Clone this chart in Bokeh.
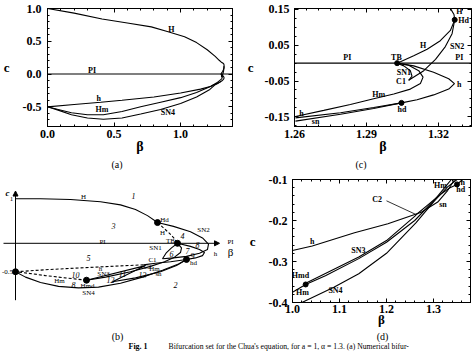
from bokeh.plotting import figure
from bokeh.layouts import column, row
from bokeh.models import (Range1d, LinearAxis, FixedTicker, PrintfTickFormatter,
                          CustomJSTickFormatter, Title, Arrow, NormalHead, Span)
from bokeh.core.properties import value
from bokeh.embed import file_html
from bokeh.resources import INLINE

SERIF = "Liberation Serif"

# ================= Panel (c): zoom near the TB point =================
c_Hup_beta = [1.3250, 1.3265, 1.3268]
c_Hup_c = [0.153, 0.136, 0.121]
c_Hlow_beta = [1.3268, 1.3250, 1.3208, 1.3153, 1.3097, 1.3028]
c_Hlow_c = [0.121, 0.0914, 0.0627, 0.039, 0.021, 0.0]
c_SN2_beta = [1.3268, 1.3257, 1.3229, 1.3188, 1.3139, 1.3076]
c_SN2_c = [0.121, 0.0824, 0.0464, 0.0104, -0.0211, -0.048]
c_SN1_beta = [1.3028, 1.3056, 1.3083, 1.3090, 1.3076]
c_SN1_c = [0.0, -0.0076, -0.0211, -0.0365, -0.048]
c_h_beta = [1.3028, 1.3097, 1.3180, 1.3243, 1.3267, 1.3243, 1.3180, 1.3111, 1.3046, 1.2930, 1.2792, 1.2604]
c_h_c = [0.0, -0.0076, -0.0257, -0.0437, -0.057, -0.0725, -0.0887, -0.1022, -0.111, -0.124, -0.1385, -0.153]
c_Hm_beta = [1.3028, 1.3076, 1.3118, 1.3136, 1.3125, 1.3083, 1.3014, 1.2930, 1.2833, 1.2722, 1.2604]
c_Hm_c = [0.0, -0.006, -0.021, -0.039, -0.057, -0.0725, -0.086, -0.0995, -0.1157, -0.132, -0.149]
c_sn_beta = [1.3046, 1.2930, 1.2792, 1.2604]
c_sn_c = [-0.111, -0.1266, -0.1428, -0.162]
c_pt_beta = [1.3028, 1.3268, 1.3046]
c_pt_c = [0.0, 0.121, -0.111]
c_lab_text = ["H", "Hd", "H", "SN2", "PI", "TB", "PI", "SN1", "C1", "h", "Hm", "hd", "h", "sn"]
c_lab_beta = [1.3287, 1.3305, 1.3136, 1.3278, 1.2820, 1.3025, 1.3287, 1.3056, 1.3044, 1.3287, 1.2951, 1.3048, 1.2629, 1.2688]
c_lab_c = [0.143, 0.118, 0.048, 0.046, 0.015, 0.015, 0.015, -0.026, -0.051, -0.060, -0.087, -0.129, -0.141, -0.163]

# ================= Panel (a): numerical bifurcation set =================
a_H_beta = [0.0, 0.2, 0.41, 0.6, 0.78, 0.9, 1.03, 1.12, 1.2, 1.26, 1.29, 1.31, 1.322]
a_H_c = [1.0, 0.93, 0.84, 0.78, 0.72, 0.65, 0.57, 0.48, 0.37, 0.27, 0.21, 0.175, 0.16]
a_h_beta = [0.0, 0.2, 0.4, 0.56, 0.8, 1.0, 1.15, 1.23]
a_h_c = [-0.5, -0.465, -0.43, -0.40, -0.35, -0.29, -0.23, -0.185]
a_Hm_beta = [0.0, 0.08, 0.18, 0.3, 0.42, 0.56, 0.7, 0.85, 1.0, 1.12, 1.22]
a_Hm_c = [-0.5, -0.54, -0.59, -0.62, -0.62, -0.57, -0.5, -0.43, -0.36, -0.28, -0.195]
a_SN4_beta = [0.0, 0.08, 0.18, 0.3, 0.42, 0.56, 0.7, 0.85, 1.0, 1.12, 1.22]
a_SN4_c = [-0.5, -0.55, -0.62, -0.67, -0.69, -0.67, -0.61, -0.54, -0.45, -0.35, -0.235]
a_lab_text = ["H", "PI", "h", "Hm", "SN4"]
a_lab_beta = [0.93, 0.335, 0.385, 0.41, 0.905]
a_lab_c = [0.685, 0.05, -0.37, -0.545, -0.585]

# ================= Panel (d): lower branch detail =================
d_h_beta = [1.0, 1.042, 1.132, 1.203, 1.274, 1.309, 1.33, 1.345]
d_h_c = [-0.273, -0.262, -0.23, -0.208, -0.18, -0.155, -0.127, -0.1]
d_Hm_beta = [1.0, 1.028, 1.07, 1.141, 1.2, 1.26, 1.302, 1.325, 1.338]
d_Hm_c = [-0.375, -0.356, -0.335, -0.293, -0.253, -0.2, -0.15, -0.118, -0.1]
d_SN3_beta = [1.028, 1.141, 1.2, 1.263]
d_SN3_c = [-0.353, -0.289, -0.249, -0.187]
d_SN4_beta = [1.02, 1.088, 1.141, 1.2, 1.263, 1.302, 1.33, 1.35]
d_SN4_c = [-0.4, -0.363, -0.33, -0.28, -0.205, -0.152, -0.118, -0.1]
d_sn_beta = [1.263, 1.29, 1.315, 1.335, 1.35, 1.362]
d_sn_c = [-0.186, -0.16, -0.136, -0.12, -0.112, -0.1]
d_C2_beta = [1.2, 1.262]
d_C2_c = [-0.152, -0.185]
d_pt_beta = [1.028, 1.35]
d_pt_c = [-0.356, -0.112]
d_lab_text = ["h", "SN3", "Hmd", "Hm", "SN4", "C2", "Hm", "h", "hd", "sn"]
d_lab_beta = [1.042, 1.14, 1.017, 1.021, 1.0915, 1.18, 1.315, 1.362, 1.358, 1.32]
d_lab_c = [-0.25, -0.273, -0.334, -0.376, -0.371, -0.148, -0.114, -0.108, -0.124, -0.162]

# ================= Panel (b): schematic (schematic units) =================
b_H_x = [15, 40, 70, 100, 120, 135, 147, 157]
b_H_y = [195, 195, 196, 199, 203, 209, 217, 226]
b_Hd_x = [157, 163, 169, 174, 177]
b_Hd_y = [226, 233, 240, 247, 253]
b_SN2_x = [157, 173, 190, 202, 208, 207, 199, 186, 173, 162]
b_SN2_y = [226, 231, 238, 246, 254, 261, 266, 270, 272, 273]
b_h_x = [177, 190, 199, 204, 202, 195, 186, 170, 155, 143]
b_h_y = [253, 257, 261, 265, 269, 272, 274, 277, 279, 281]
b_hdash_x = [143, 110, 80, 50, 15]
b_hdash_y = [281, 283, 285, 287, 290]
b_Hm_x = [177, 181, 180, 174, 164, 150, 130, 105, 86]
b_Hm_y = [253, 259, 265, 271, 277, 283, 290, 297, 301]
b_Hmdash_x = [86, 65, 45, 28, 15]
b_Hmdash_y = [301, 298, 295, 292, 290]
b_SN1_x = [177, 171, 166, 162]
b_SN1_y = [253, 259, 265, 273]
b_SN3_x = [86, 145, 112]
b_SN3_y = [301, 282, 303]
b_sn_x = [112, 135, 160, 176, 186]
b_sn_y = [303, 298, 290, 282, 274]
b_SN4_x = [15, 25, 40, 58, 78, 98, 120, 142, 162, 178, 186]
b_SN4_y = [290, 297, 304, 309, 311, 310, 305, 297, 288, 280, 274]
b_pt_x = [157, 177, 186, 86, 15]
b_pt_y = [226, 253, 274, 301, 290]
b_lab_text = ["H", "Hd", "H", "SN2", "TB", "PI", "PI", "SN1", "C1", "h", "hd",
              "Hm", "C2", "sn", "h", "Hm", "Hmd", "SN3", "SN4", "1", "-0.5"]
b_lab_x = [83, 164, 162, 203, 170, 102, 230, 155, 152, 215, 193,
           154, 147, 158, 100, 59, 87, 103, 88, 11, 7]
b_lab_y = [193, 223, 240, 236, 250, 251, 251, 259, 275, 267, 279,
           286, 284, 293, 287, 302, 308, 293, 318, 195, 290]
b_reg_text = ["1", "3", "4", "5", "6", "7", "8", "9", "10", "8", "11", "12", "13", "2"]
b_reg_x = [133, 113, 182, 88, 171, 187, 197, 192, 75, 73, 122, 110, 142, 175]
b_reg_y = [192, 230, 244, 272, 267, 263, 255, 269, 294, 307, 293, 301, 294, 307]

CAPTION = "Bifurcation set for the Chua's equation, for a = 1, \u03b1 = 1.3. (a) Numerical bifur-"

BLANK = CustomJSTickFormatter(code="return '';")


def frame_fig(w, h, xr, yr, bl, br, bt, bb, xt, xm, yt, ym, fmt,
              x_std, x_lab_std, y_std, y_lab_std, beta_size):
    p = figure(width=w, height=h, x_range=Range1d(*xr), y_range=Range1d(*yr),
               output_backend="svg", toolbar_location=None,
               min_border_left=bl, min_border_right=br, min_border_top=bt,
               min_border_bottom=bb, x_axis_location=None, y_axis_location=None)
    p.grid.visible = False
    p.outline_line_color = "black"
    p.outline_line_width = 1
    p.background_fill_color = "white"
    p.border_fill_color = "white"
    for loc, ticks, minors, show in [("below", xt, xm, True), ("left", yt, ym, True),
                                     ("above", xt, xm, False), ("right", yt, ym, False)]:
        if show:
            fm = PrintfTickFormatter(format=fmt[0] if loc == "below" else fmt[1])
        else:
            fm = BLANK
        ax = LinearAxis(ticker=FixedTicker(ticks=ticks, minor_ticks=minors), formatter=fm)
        ax.major_tick_in = 4
        ax.major_tick_out = 0
        ax.minor_tick_in = 2
        ax.minor_tick_out = 0
        ax.axis_line_color = "black"
        ax.major_label_text_font = SERIF
        ax.major_label_text_font_style = "bold"
        ax.major_label_text_color = "black"
        ax.major_label_text_font_size = "12px"
        ax.axis_label_text_font = SERIF
        ax.axis_label_text_font_style = "bold"
        ax.axis_label_text_color = "black"
        if not show:
            ax.major_label_standoff = 0
        elif loc == "below":
            ax.major_label_standoff = x_std
            ax.axis_label = "\u03b2"
            ax.axis_label_standoff = x_lab_std
            ax.axis_label_text_font_size = beta_size
        else:
            ax.major_label_standoff = y_std
            ax.axis_label = "c"
            ax.axis_label_standoff = y_lab_std
            ax.axis_label_text_font_size = "13px"
            if "axis_label_orientation" in ax.properties():
                ax.axis_label_orientation = "horizontal"
        p.add_layout(ax, loc)
    return p


def labels(p, texts, xs, ys, size="8px", style="bold"):
    p.text(x=xs, y=ys, text=texts, text_font=value(SERIF), text_font_size=size,
           text_font_style=style, text_align="center", text_baseline="middle",
           text_color="black")


def panel_title(p, txt, offset):
    p.add_layout(Title(text=txt, align="left", offset=offset, standoff=0,
                       text_font=SERIF, text_font_size="10px", text_font_style="normal",
                       text_color="black"), "below")


def ticks_between(a, b, step):
    n = int(round((b - a) / step))
    return [round(a + i * step, 4) for i in range(n + 1)]


LW = 1.1

# ---------- (a) ----------
pa = frame_fig(240, 170, (0.0, 1.39), (-0.8, 1.0), 45, 8, 8, 44,
               [0.0, 0.5, 1.0], ticks_between(0.0, 1.4, 0.1),
               [-0.5, 0.0, 0.5, 1.0], ticks_between(-0.8, 1.0, 0.1), ("%.1f", "%.1f"),
               3, -2, 6, 10, "14px")
panel_title(pa, "(a)", 64)
pa.add_layout(Span(location=0, dimension="width", line_color="black", line_width=LW))
pa.line(a_H_beta + c_Hup_beta, a_H_c + c_Hup_c, line_color="black", line_width=LW)
pa.line(c_Hlow_beta, c_Hlow_c, line_color="black", line_width=LW)
pa.line(c_SN2_beta, c_SN2_c, line_color="black", line_width=LW)
pa.line(c_SN1_beta, c_SN1_c, line_color="black", line_width=LW)
pa.line(a_h_beta + c_h_beta[::-1], a_h_c + c_h_c[::-1], line_color="black", line_width=LW)
pa.line(a_Hm_beta + c_Hm_beta[::-1], a_Hm_c + c_Hm_c[::-1], line_color="black", line_width=LW)
pa.line(a_SN4_beta + c_sn_beta[::-1], a_SN4_c + c_sn_c[::-1], line_color="black", line_width=LW)
labels(pa, a_lab_text, a_lab_beta, a_lab_c)

# ---------- (c) ----------
pc = frame_fig(234, 170, (1.26, 1.3338), (-0.177, 0.1527), 54, 3, 8, 44,
               [1.26, 1.29, 1.32], ticks_between(1.26, 1.335, 0.005),
               [-0.15, -0.05, 0.05, 0.15], ticks_between(-0.175, 0.15, 0.025), ("%.2f", "%.2f"),
               3, -2, 5, 8, "14px")
panel_title(pc, "(c)", 61)
pc.add_layout(Span(location=0, dimension="width", line_color="black", line_width=LW))
for bx, cy in [(c_Hup_beta, c_Hup_c), (c_Hlow_beta, c_Hlow_c), (c_SN2_beta, c_SN2_c),
               (c_SN1_beta, c_SN1_c), (c_h_beta, c_h_c), (c_Hm_beta, c_Hm_c), (c_sn_beta, c_sn_c)]:
    pc.line(bx, cy, line_color="black", line_width=LW)
pc.scatter(c_pt_beta, c_pt_c, size=5, color="black")
labels(pc, c_lab_text, c_lab_beta, c_lab_c)

# ---------- (b) ----------
pb = figure(width=240, height=160, x_range=Range1d(0, 240), y_range=Range1d(330, 170),
            output_backend="svg", toolbar_location=None, min_border=0,
            x_axis_location=None, y_axis_location=None)
pb.grid.visible = False
pb.outline_line_color = None
pb.add_layout(Arrow(end=NormalHead(size=5, fill_color="black", line_color="black"),
                    x_start=15, y_start=327, x_end=15, y_end=185, line_width=1))
pb.add_layout(Arrow(end=NormalHead(size=5, fill_color="black", line_color="black"),
                    x_start=3, y_start=253, x_end=219, y_end=253, line_width=1))
for bx, by in [(b_H_x, b_H_y), (b_SN2_x, b_SN2_y), (b_h_x, b_h_y), (b_Hm_x, b_Hm_y),
               (b_SN1_x, b_SN1_y), (b_SN3_x, b_SN3_y), (b_sn_x, b_sn_y), (b_SN4_x, b_SN4_y)]:
    pb.line(bx, by, line_color="black", line_width=LW)
for bx, by in [(b_Hd_x, b_Hd_y), (b_hdash_x, b_hdash_y), (b_Hmdash_x, b_Hmdash_y)]:
    pb.line(bx, by, line_color="black", line_width=LW, line_dash="3 2")
pb.scatter(b_pt_x, b_pt_y, size=6, color="black")
labels(pb, b_lab_text, b_lab_x, b_lab_y, size="7px", style="normal")
labels(pb, b_reg_text, b_reg_x, b_reg_y, size="8px", style="italic")
labels(pb, ["c"], [7], [187], size="9px", style="bold italic")
labels(pb, ["\u03b2"], [230], [264], size="11px", style="normal")

# ---------- (d) ----------
pd_ = frame_fig(234, 160, (1.0, 1.3787), (-0.4, -0.1), 52, 4, 9, 28,
                [1.0, 1.1, 1.2, 1.3], ticks_between(1.0, 1.38, 0.02),
                [-0.4, -0.3, -0.2, -0.1], ticks_between(-0.4, -0.1, 0.02), ("%.1f", "%.1f"),
                2, -4, 5, 10, "13px")
for bx, cy in [(d_h_beta, d_h_c), (d_Hm_beta, d_Hm_c), (d_SN3_beta, d_SN3_c),
               (d_SN4_beta, d_SN4_c), (d_sn_beta, d_sn_c)]:
    pd_.line(bx, cy, line_color="black", line_width=LW)
pd_.line(d_C2_beta, d_C2_c, line_color="black", line_width=0.8)
pd_.scatter(d_pt_beta, d_pt_c, size=5, color="black")
labels(pd_, d_lab_text, d_lab_beta, d_lab_c)

# ---------- caption strip ----------
pcap = figure(width=474, height=22, x_range=Range1d(0, 474), y_range=Range1d(352, 330),
              output_backend="svg", toolbar_location=None, min_border=0,
              x_axis_location=None, y_axis_location=None)
pcap.grid.visible = False
pcap.outline_line_color = None
labels(pcap, ["(b)", "(d)"], [117, 382], [336, 336], size="10px", style="normal")
pcap.text(x=[128], y=[346], text=["Fig. 1"], text_font=value(SERIF), text_font_size="8px",
          text_font_style="bold", text_align="left", text_baseline="middle", text_color="black")
pcap.text(x=[168], y=[346], text=[CAPTION], text_font=value(SERIF), text_font_size="7.7px",
          text_align="left", text_baseline="middle", text_color="black")

layout = column(row(pa, pc), row(pb, pd_), pcap)
open("out.html", "w").write(file_html(layout, INLINE))
